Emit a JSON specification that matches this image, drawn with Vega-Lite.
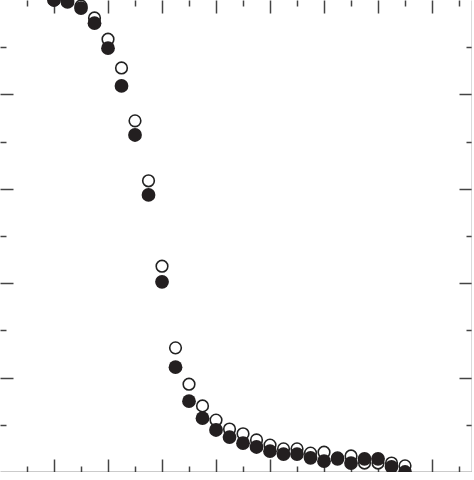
{
  "$schema": "https://vega.github.io/schema/vega-lite/v6.json",
  "width": 472,
  "height": 472,
  "autosize": {"type": "none"},
  "padding": 0,
  "background": "white",
  "config": {"view": {"stroke": null}},
  "datasets": {
    "open": [
      {"x": 2.0, "y": 10.0}, {"x": 2.5, "y": 9.98}, {"x": 3.0, "y": 9.87}, {"x": 3.5, "y": 9.62},
      {"x": 4.0, "y": 9.17}, {"x": 4.5, "y": 8.56}, {"x": 5.0, "y": 7.44}, {"x": 5.5, "y": 6.17},
      {"x": 6.0, "y": 4.36}, {"x": 6.5, "y": 2.63}, {"x": 7.0, "y": 1.86}, {"x": 7.5, "y": 1.40},
      {"x": 8.0, "y": 1.10}, {"x": 8.5, "y": 0.91}, {"x": 9.0, "y": 0.81}, {"x": 9.5, "y": 0.68},
      {"x": 10.0, "y": 0.57}, {"x": 10.5, "y": 0.49}, {"x": 11.0, "y": 0.49}, {"x": 11.5, "y": 0.40},
      {"x": 12.0, "y": 0.42}, {"x": 12.5, "y": 0.30}, {"x": 13.0, "y": 0.34}, {"x": 13.5, "y": 0.19},
      {"x": 14.0, "y": 0.19}, {"x": 14.5, "y": 0.19}, {"x": 15.0, "y": 0.13}
    ],
    "filled": [
      {"x": 2.0, "y": 10.0}, {"x": 2.5, "y": 9.96}, {"x": 3.0, "y": 9.83}, {"x": 3.5, "y": 9.51},
      {"x": 4.0, "y": 8.98}, {"x": 4.5, "y": 8.18}, {"x": 5.0, "y": 7.14}, {"x": 5.5, "y": 5.87},
      {"x": 6.0, "y": 4.03}, {"x": 6.5, "y": 2.22}, {"x": 7.0, "y": 1.50}, {"x": 7.5, "y": 1.14},
      {"x": 8.0, "y": 0.89}, {"x": 8.5, "y": 0.74}, {"x": 9.0, "y": 0.61}, {"x": 9.5, "y": 0.53},
      {"x": 10.0, "y": 0.44}, {"x": 10.5, "y": 0.38}, {"x": 11.0, "y": 0.38}, {"x": 11.5, "y": 0.30},
      {"x": 12.0, "y": 0.23}, {"x": 12.5, "y": 0.28}, {"x": 13.0, "y": 0.19}, {"x": 13.5, "y": 0.28},
      {"x": 14.0, "y": 0.28}, {"x": 14.5, "y": 0.11}, {"x": 15.0, "y": 0.0}
    ]
  },
  "layer": [
    {
      "data": {"name": "open"},
      "mark": {"type": "point", "shape": "circle", "filled": false, "fill": "white", "fillOpacity": 1, "stroke": "#222222", "strokeWidth": 1.6, "opacity": 1, "size": 135},
      "encoding": {
        "x": {"field": "x", "type": "quantitative",
          "scale": {"domain": [0, 17.48], "nice": false, "zero": false},
          "axis": {"orient": "bottom", "title": null, "labels": false, "grid": false,
            "values": [1,2,3,4,5,6,7,8,9,10,11,12,13,14,15,16,17],
            "domain": true, "domainColor": "#333333", "domainWidth": 1.5,
            "tickColor": "#444444", "tickWidth": 1.5,
            "tickSize": {"condition": {"test": "datum.value % 2 === 0", "value": -13}, "value": -6}}},
        "y": {"field": "y", "type": "quantitative",
          "scale": {"domain": [0, 10], "nice": false, "zero": false},
          "axis": {"orient": "left", "title": null, "labels": false, "grid": false,
            "values": [1,2,3,4,5,6,7,8,9],
            "domain": false,
            "tickColor": "#444444", "tickWidth": 1.5,
            "tickSize": {"condition": {"test": "datum.value % 2 === 0", "value": -13}, "value": -6}}}
      }
    },
    {
      "data": {"name": "filled"},
      "mark": {"type": "point", "shape": "circle", "filled": true, "color": "#231f20", "opacity": 1, "size": 190},
      "encoding": {
        "x": {"field": "x", "type": "quantitative",
          "scale": {"domain": [0, 17.48], "nice": false, "zero": false},
          "axis": {"orient": "top", "title": null, "labels": false, "grid": false,
            "values": [1,2,3,4,5,6,7,8,9,10,11,12,13,14,15,16,17],
            "domain": false,
            "tickColor": "#444444", "tickWidth": 1.5,
            "tickSize": {"condition": {"test": "datum.value % 2 === 0", "value": -13}, "value": -6}}},
        "y": {"field": "y", "type": "quantitative",
          "scale": {"domain": [0, 10], "nice": false, "zero": false},
          "axis": {"orient": "right", "title": null, "labels": false, "grid": false,
            "values": [1,2,3,4,5,6,7,8,9],
            "domain": true, "domainColor": "#b5b5b5", "domainWidth": 2,
            "tickColor": "#444444", "tickWidth": 1.5,
            "tickSize": {"condition": {"test": "datum.value % 2 === 0", "value": -13}, "value": -6}}}
      }
    }
  ],
  "resolve": {"scale": {"x": "independent", "y": "independent"}, "axis": {"x": "independent", "y": "independent"}}
}
